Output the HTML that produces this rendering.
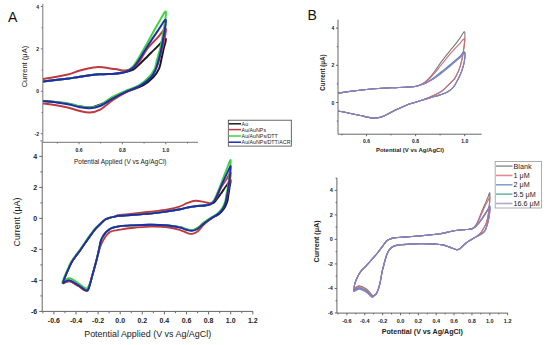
<!DOCTYPE html>
<html><head><meta charset="utf-8"><style>
html,body{margin:0;padding:0;background:#fff;width:550px;height:345px;overflow:hidden;}
svg{display:block;font-family:"Liberation Sans",sans-serif;}
</style></head><body>
<svg width="550" height="345" viewBox="0 0 550 345" font-family="Liberation Sans, sans-serif">
<rect width="550" height="345" fill="#fff"/>
<defs>
<clipPath id="cTA"><rect x="43.00" y="0.00" width="155.00" height="142.00"/></clipPath>
<clipPath id="cBA"><rect x="42.50" y="140.00" width="210.50" height="171.00"/></clipPath>
<clipPath id="cTB"><rect x="338.50" y="15.00" width="143.50" height="119.00"/></clipPath>
<clipPath id="cBB"><rect x="337.20" y="175.00" width="170.80" height="138.00"/></clipPath>
</defs>
<g clip-path="url(#cTA)" fill="none" stroke-width="2.0" stroke-linejoin="round">
<path d="M-164.04,180.34 C-163.71,179.63 -162.77,177.51 -162.09,176.10 C-161.40,174.69 -161.33,174.26 -159.92,171.86 C-158.51,169.46 -156.08,165.39 -153.62,161.68 C-151.16,157.97 -149.43,154.37 -145.16,149.60 C-140.89,144.83 -133.44,138.40 -128.02,133.06 C-122.59,127.73 -117.46,122.25 -112.61,117.59 C-107.76,112.92 -103.14,108.51 -98.94,105.08 C-94.74,101.65 -90.51,99.07 -87.44,97.02 C-84.36,94.97 -82.92,93.84 -80.50,92.78 C-78.07,91.72 -75.97,91.34 -72.90,90.66 C-69.83,89.99 -65.67,89.25 -62.05,88.76 C-58.43,88.26 -62.77,88.37 -51.20,87.70 C-39.63,87.02 -8.16,85.75 7.39,84.73 C22.94,83.70 32.24,82.54 42.11,81.55 C51.98,80.56 60.30,79.60 66.63,78.79 C72.96,77.98 74.59,77.41 80.08,76.67 C85.58,75.93 93.83,74.83 99.61,74.34 C105.40,73.85 110.54,74.09 114.80,73.70 C119.07,73.32 122.15,72.68 125.22,72.01 C128.30,71.34 130.79,71.05 133.25,69.68 C135.71,68.30 137.73,65.82 139.98,63.74 C142.22,61.66 143.77,60.07 146.70,57.17 C149.63,54.27 154.37,49.43 157.55,46.36 C160.74,43.28 164.79,38.30 165.80,38.72 C166.81,39.15 164.39,45.37 163.63,48.90 C162.87,52.43 162.00,56.64 161.24,59.92 C160.48,63.21 160.41,65.72 159.07,68.62 C157.73,71.51 155.89,74.52 153.21,77.31 C150.54,80.10 147.07,83.10 143.01,85.36 C138.96,87.63 133.79,88.83 128.91,90.88 C124.03,92.93 118.42,95.40 113.72,97.66 C109.02,99.92 104.68,102.82 100.70,104.44 C96.72,106.07 93.47,107.13 89.85,107.41 C86.23,107.69 82.87,106.81 79.00,106.14 C75.13,105.47 72.78,104.23 66.63,103.38 C60.48,102.54 51.98,101.62 42.11,101.05 C32.24,100.49 19.33,100.03 7.39,99.99 C-4.54,99.96 -19.73,100.52 -29.50,100.84 C-39.27,101.16 -44.98,101.33 -51.20,101.90 C-57.42,102.47 -63.03,103.35 -66.82,104.23 C-70.62,105.12 -71.96,106.21 -73.99,107.20 C-76.01,108.19 -77.17,108.75 -78.98,110.17 C-80.78,111.58 -83.14,113.70 -84.84,115.68 C-86.53,117.66 -87.73,118.68 -89.18,122.04 C-90.62,125.40 -92.10,131.47 -93.52,135.82 C-94.93,140.17 -95.90,143.38 -97.64,148.12 C-99.37,152.85 -101.98,159.21 -103.93,164.23 C-105.88,169.25 -107.87,174.47 -109.36,178.22 C-110.84,181.97 -111.74,184.72 -112.83,186.70 C-113.91,188.68 -114.49,189.74 -115.87,190.09 C-117.24,190.45 -118.11,189.92 -121.07,188.82 C-124.04,187.72 -128.85,185.46 -133.66,183.52 C-138.47,181.58 -145.78,177.97 -149.94,177.16 C-154.09,176.35 -156.26,178.11 -158.61,178.64 C-160.97,179.17 -163.14,180.06 -164.04,180.34" stroke="#1a1a1a"/>
<path d="M-164.04,180.34 C-163.71,179.63 -162.77,177.51 -162.09,176.10 C-161.40,174.69 -161.33,174.26 -159.92,171.86 C-158.51,169.46 -156.08,165.39 -153.62,161.68 C-151.16,157.97 -149.43,154.37 -145.16,149.60 C-140.89,144.83 -133.44,138.40 -128.02,133.06 C-122.59,127.73 -117.46,122.25 -112.61,117.59 C-107.76,112.92 -103.14,108.51 -98.94,105.08 C-94.74,101.65 -90.51,99.07 -87.44,97.02 C-84.36,94.97 -82.92,93.84 -80.50,92.78 C-78.07,91.72 -75.97,91.34 -72.90,90.66 C-69.83,89.99 -65.67,89.43 -62.05,88.76 C-58.43,88.08 -62.77,87.73 -51.20,86.64 C-39.63,85.54 -8.16,83.46 7.39,82.18 C22.94,80.91 32.24,80.24 42.11,79.00 C51.98,77.77 60.34,76.18 66.63,74.76 C72.92,73.35 74.91,71.80 79.87,70.52 C84.82,69.25 90.54,67.38 96.36,67.13 C102.18,66.88 109.99,68.47 114.80,69.04 C119.62,69.61 122.15,70.77 125.22,70.52 C128.30,70.28 130.79,69.22 133.25,67.56 C135.71,65.90 137.73,63.56 139.98,60.56 C142.22,57.56 143.77,53.35 146.70,49.54 C149.63,45.72 154.37,41.16 157.55,37.66 C160.74,34.17 164.79,27.74 165.80,28.55 C166.81,29.36 164.53,38.09 163.63,42.54 C162.73,46.99 161.39,51.55 160.38,55.26 C159.36,58.97 158.46,62.26 157.55,64.80 C156.65,67.34 156.18,68.44 154.95,70.52 C153.72,72.61 152.64,74.83 150.18,77.31 C147.72,79.78 144.10,82.93 140.19,85.36 C136.29,87.80 131.33,89.46 126.74,91.94 C122.15,94.41 116.97,97.31 112.63,100.20 C108.29,103.10 104.50,107.27 100.70,109.32 C96.90,111.37 93.47,112.25 89.85,112.50 C86.23,112.75 82.87,111.69 79.00,110.80 C75.13,109.92 72.78,108.44 66.63,107.20 C60.48,105.96 51.98,104.16 42.11,103.38 C32.24,102.61 19.33,102.36 7.39,102.54 C-4.54,102.71 -19.73,103.77 -29.50,104.44 C-39.27,105.12 -44.69,105.82 -51.20,106.56 C-57.71,107.31 -64.58,107.98 -68.56,108.90 C-72.54,109.81 -73.08,110.77 -75.07,112.08 C-77.06,113.38 -78.69,114.90 -80.50,116.74 C-82.30,118.58 -84.36,120.98 -85.92,123.10 C-87.48,125.22 -88.38,126.63 -89.83,129.46 C-91.27,132.29 -93.30,136.95 -94.60,140.06 C-95.90,143.17 -96.08,144.09 -97.64,148.12 C-99.19,152.14 -101.91,159.21 -103.93,164.23 C-105.96,169.25 -108.09,174.47 -109.79,178.22 C-111.49,181.97 -112.86,184.79 -114.13,186.70 C-115.40,188.61 -115.94,189.24 -117.38,189.67 C-118.83,190.09 -120.10,190.27 -122.81,189.24 C-125.52,188.22 -129.32,185.43 -133.66,183.52 C-138.00,181.61 -144.69,178.68 -148.85,177.80 C-153.01,176.91 -156.08,177.80 -158.61,178.22 C-161.15,178.64 -163.14,179.99 -164.04,180.34" stroke="#c0393f"/>
<path d="M-165.34,180.34 C-165.02,179.63 -164.08,177.51 -163.39,176.10 C-162.70,174.69 -162.63,174.26 -161.22,171.86 C-159.81,169.46 -157.39,165.39 -154.93,161.68 C-152.47,157.97 -150.73,154.37 -146.46,149.60 C-142.20,144.83 -134.75,138.40 -129.32,133.06 C-123.90,127.73 -118.76,122.25 -113.91,117.59 C-109.07,112.92 -104.44,108.51 -100.24,105.08 C-96.05,101.65 -92.03,99.07 -88.74,97.02 C-85.45,94.97 -83.14,93.84 -80.50,92.78 C-77.85,91.72 -75.97,91.34 -72.90,90.66 C-69.83,89.99 -65.67,89.25 -62.05,88.76 C-58.43,88.26 -62.77,88.37 -51.20,87.70 C-39.63,87.02 -8.16,85.75 7.39,84.73 C22.94,83.70 32.24,82.54 42.11,81.55 C51.98,80.56 60.30,79.60 66.63,78.79 C72.96,77.98 74.59,77.41 80.08,76.67 C85.58,75.93 93.83,74.83 99.61,74.34 C105.40,73.85 110.54,74.09 114.80,73.70 C119.07,73.32 122.15,73.28 125.22,72.01 C128.30,70.74 130.79,68.79 133.25,66.07 C135.71,63.35 137.73,59.36 139.98,55.68 C142.22,52.01 143.77,49.22 146.70,44.02 C149.63,38.83 154.37,29.93 157.55,24.52 C160.74,19.11 164.79,10.70 165.80,11.59 C166.81,12.47 164.53,23.78 163.63,29.82 C162.73,35.86 161.50,42.82 160.38,47.84 C159.25,52.86 157.84,56.46 156.90,59.92 C155.96,63.39 156.07,65.72 154.73,68.62 C153.39,71.51 151.51,74.52 148.87,77.31 C146.23,80.10 142.94,83.03 138.89,85.36 C134.84,87.70 129.38,89.14 124.57,91.30 C119.76,93.46 114.01,96.03 110.03,98.30 C106.05,100.56 104.06,103.35 100.70,104.87 C97.34,106.39 93.47,107.20 89.85,107.41 C86.23,107.62 82.87,106.85 79.00,106.14 C75.13,105.43 72.78,104.02 66.63,103.17 C60.48,102.32 51.98,101.58 42.11,101.05 C32.24,100.52 19.33,100.03 7.39,99.99 C-4.54,99.96 -19.73,100.52 -29.50,100.84 C-39.27,101.16 -44.98,101.33 -51.20,101.90 C-57.42,102.47 -63.03,103.35 -66.82,104.23 C-70.62,105.12 -71.96,106.21 -73.99,107.20 C-76.01,108.19 -77.17,108.75 -78.98,110.17 C-80.78,111.58 -83.14,113.70 -84.84,115.68 C-86.53,117.66 -87.73,118.68 -89.18,122.04 C-90.62,125.40 -92.10,131.47 -93.52,135.82 C-94.93,140.17 -95.90,143.38 -97.64,148.12 C-99.37,152.85 -101.98,159.21 -103.93,164.23 C-105.88,169.25 -107.66,174.76 -109.36,178.22 C-111.06,181.68 -112.79,183.52 -114.13,185.00 C-115.47,186.49 -115.94,187.02 -117.38,187.12 C-118.83,187.23 -119.74,187.05 -122.81,185.64 C-125.88,184.23 -131.31,180.73 -135.83,178.64 C-140.35,176.56 -146.14,173.73 -149.94,173.13 C-153.73,172.53 -156.05,174.02 -158.61,175.04 C-161.18,176.06 -164.22,178.57 -165.34,179.28" stroke="#3fd23f"/>
<path d="M-164.04,180.34 C-163.71,179.63 -162.77,177.51 -162.09,176.10 C-161.40,174.69 -161.33,174.26 -159.92,171.86 C-158.51,169.46 -156.08,165.39 -153.62,161.68 C-151.16,157.97 -149.43,154.37 -145.16,149.60 C-140.89,144.83 -133.44,138.40 -128.02,133.06 C-122.59,127.73 -117.46,122.25 -112.61,117.59 C-107.76,112.92 -103.14,108.51 -98.94,105.08 C-94.74,101.65 -90.51,99.07 -87.44,97.02 C-84.36,94.97 -82.92,93.84 -80.50,92.78 C-78.07,91.72 -75.97,91.34 -72.90,90.66 C-69.83,89.99 -65.67,89.25 -62.05,88.76 C-58.43,88.26 -62.77,88.37 -51.20,87.70 C-39.63,87.02 -8.16,85.75 7.39,84.73 C22.94,83.70 32.24,82.54 42.11,81.55 C51.98,80.56 60.30,79.60 66.63,78.79 C72.96,77.98 74.59,77.41 80.08,76.67 C85.58,75.93 93.83,74.83 99.61,74.34 C105.40,73.85 110.54,74.09 114.80,73.70 C119.07,73.32 122.15,73.03 125.22,72.01 C128.30,70.98 130.79,69.82 133.25,67.56 C135.71,65.29 137.73,61.80 139.98,58.44 C142.22,55.08 143.77,51.97 146.70,47.42 C149.63,42.86 154.37,35.69 157.55,31.09 C160.74,26.50 164.79,19.01 165.80,19.86 C166.81,20.70 164.53,30.63 163.63,36.18 C162.73,41.73 161.39,48.55 160.38,53.14 C159.36,57.73 158.39,60.91 157.55,63.74 C156.72,66.57 156.47,67.84 155.38,70.10 C154.30,72.36 153.47,74.76 151.04,77.31 C148.62,79.85 144.90,83.03 140.84,85.36 C136.79,87.70 131.44,89.11 126.74,91.30 C122.04,93.49 116.97,96.11 112.63,98.51 C108.29,100.91 104.50,104.09 100.70,105.72 C96.90,107.34 93.47,108.05 89.85,108.26 C86.23,108.47 82.87,107.69 79.00,106.99 C75.13,106.28 72.78,105.01 66.63,104.02 C60.48,103.03 51.98,101.72 42.11,101.05 C32.24,100.38 19.33,100.03 7.39,99.99 C-4.54,99.96 -19.73,100.52 -29.50,100.84 C-39.27,101.16 -44.98,101.33 -51.20,101.90 C-57.42,102.47 -63.03,103.35 -66.82,104.23 C-70.62,105.12 -71.96,106.21 -73.99,107.20 C-76.01,108.19 -77.17,108.75 -78.98,110.17 C-80.78,111.58 -83.14,113.70 -84.84,115.68 C-86.53,117.66 -87.73,118.68 -89.18,122.04 C-90.62,125.40 -92.10,131.47 -93.52,135.82 C-94.93,140.17 -95.90,143.38 -97.64,148.12 C-99.37,152.85 -101.98,159.21 -103.93,164.23 C-105.88,169.25 -107.87,174.47 -109.36,178.22 C-110.84,181.97 -111.74,184.72 -112.83,186.70 C-113.91,188.68 -114.49,189.74 -115.87,190.09 C-117.24,190.45 -118.11,190.09 -121.07,188.82 C-124.04,187.55 -128.85,184.58 -133.66,182.46 C-138.47,180.34 -145.78,176.91 -149.94,176.10 C-154.09,175.29 -156.26,176.88 -158.61,177.58 C-160.97,178.29 -163.14,179.88 -164.04,180.34" stroke="#1f2bb0"/>
</g>
<path d="M42.80,3.90 V142.30 H198.00" fill="none" stroke="#666" stroke-width="0.90"/>
<line x1="40.80" y1="6.50" x2="42.80" y2="6.50" stroke="#666" stroke-width="0.90"/>
<text x="39.00" y="6.50" font-size="5.00" font-weight="bold" text-anchor="end" dominant-baseline="central" fill="#222">4</text>
<line x1="40.80" y1="48.90" x2="42.80" y2="48.90" stroke="#666" stroke-width="0.90"/>
<text x="39.00" y="48.90" font-size="5.00" font-weight="bold" text-anchor="end" dominant-baseline="central" fill="#222">2</text>
<line x1="40.80" y1="91.30" x2="42.80" y2="91.30" stroke="#666" stroke-width="0.90"/>
<text x="39.00" y="91.30" font-size="5.00" font-weight="bold" text-anchor="end" dominant-baseline="central" fill="#222">0</text>
<line x1="40.80" y1="133.70" x2="42.80" y2="133.70" stroke="#666" stroke-width="0.90"/>
<text x="39.00" y="133.70" font-size="5.00" font-weight="bold" text-anchor="end" dominant-baseline="central" fill="#222">-2</text>
<line x1="41.60" y1="27.70" x2="42.80" y2="27.70" stroke="#666" stroke-width="0.90"/>
<line x1="41.60" y1="70.10" x2="42.80" y2="70.10" stroke="#666" stroke-width="0.90"/>
<line x1="41.60" y1="112.50" x2="42.80" y2="112.50" stroke="#666" stroke-width="0.90"/>
<line x1="79.00" y1="142.30" x2="79.00" y2="144.30" stroke="#666" stroke-width="0.90"/>
<text x="79.00" y="149.90" font-size="5.00" font-weight="bold" text-anchor="middle" dominant-baseline="central" fill="#222">0.6</text>
<line x1="122.40" y1="142.30" x2="122.40" y2="144.30" stroke="#666" stroke-width="0.90"/>
<text x="122.40" y="149.90" font-size="5.00" font-weight="bold" text-anchor="middle" dominant-baseline="central" fill="#222">0.8</text>
<line x1="165.80" y1="142.30" x2="165.80" y2="144.30" stroke="#666" stroke-width="0.90"/>
<text x="165.80" y="149.90" font-size="5.00" font-weight="bold" text-anchor="middle" dominant-baseline="central" fill="#222">1.0</text>
<line x1="57.30" y1="142.30" x2="57.30" y2="143.50" stroke="#666" stroke-width="0.90"/>
<line x1="100.70" y1="142.30" x2="100.70" y2="143.50" stroke="#666" stroke-width="0.90"/>
<line x1="144.10" y1="142.30" x2="144.10" y2="143.50" stroke="#666" stroke-width="0.90"/>
<line x1="187.50" y1="142.30" x2="187.50" y2="143.50" stroke="#666" stroke-width="0.90"/>
<text font-size="7" transform="translate(24.4,66.6) rotate(-90)" text-anchor="middle" dominant-baseline="central" fill="#222" x="0" textLength="41.5" lengthAdjust="spacingAndGlyphs">Current (μA)</text>
<text x="74" y="163.6" font-size="7" fill="#222" textLength="92.5" lengthAdjust="spacingAndGlyphs">Potential Applied (V vs Ag/AgCl)</text>
<g clip-path="url(#cBA)" fill="none" stroke-width="1.85" stroke-linejoin="round">
<path d="M62.74,283.50 C62.91,282.98 63.38,281.43 63.73,280.40 C64.08,279.37 64.12,279.06 64.84,277.30 C65.56,275.54 66.79,272.57 68.04,269.86 C69.30,267.15 70.18,264.51 72.35,261.02 C74.53,257.54 78.32,252.84 81.08,248.94 C83.85,245.03 86.46,241.03 88.93,237.62 C91.40,234.21 93.75,230.98 95.89,228.47 C98.03,225.97 100.18,224.08 101.75,222.59 C103.31,221.09 104.05,220.26 105.28,219.49 C106.52,218.71 107.58,218.43 109.15,217.94 C110.72,217.44 112.83,216.90 114.67,216.54 C116.52,216.18 114.31,216.26 120.20,215.77 C126.09,215.27 142.12,214.34 150.03,213.59 C157.95,212.85 162.69,211.99 167.72,211.27 C172.74,210.55 176.98,209.85 180.20,209.25 C183.42,208.66 184.25,208.25 187.05,207.71 C189.85,207.16 194.05,206.36 197.00,206.00 C199.94,205.64 202.56,205.82 204.73,205.53 C206.91,205.25 208.47,204.79 210.04,204.30 C211.60,203.80 212.87,203.60 214.12,202.59 C215.38,201.58 216.41,199.77 217.55,198.25 C218.69,196.73 219.48,195.56 220.98,193.44 C222.47,191.33 224.88,187.79 226.50,185.54 C228.12,183.29 230.18,179.65 230.70,179.96 C231.22,180.27 229.98,184.82 229.59,187.40 C229.21,189.98 228.77,193.06 228.38,195.46 C227.99,197.86 227.96,199.70 227.27,201.81 C226.59,203.93 225.65,206.13 224.29,208.17 C222.93,210.21 221.16,212.41 219.10,214.06 C217.03,215.71 214.40,216.59 211.91,218.09 C209.43,219.59 206.57,221.40 204.18,223.05 C201.79,224.70 199.58,226.82 197.55,228.01 C195.52,229.20 193.87,229.97 192.03,230.18 C190.18,230.39 188.47,229.74 186.50,229.25 C184.53,228.76 183.33,227.86 180.20,227.24 C177.07,226.62 172.74,225.94 167.72,225.53 C162.69,225.12 156.11,224.78 150.03,224.75 C143.96,224.73 136.22,225.14 131.25,225.38 C126.28,225.61 123.37,225.74 120.20,226.15 C117.03,226.56 114.18,227.21 112.24,227.86 C110.31,228.50 109.63,229.30 108.60,230.03 C107.57,230.75 106.98,231.16 106.06,232.19 C105.14,233.23 103.94,234.78 103.07,236.22 C102.21,237.67 101.60,238.42 100.86,240.88 C100.13,243.33 99.37,247.77 98.65,250.95 C97.93,254.13 97.44,256.48 96.55,259.94 C95.67,263.40 94.34,268.05 93.35,271.72 C92.35,275.39 91.34,279.21 90.59,281.95 C89.83,284.69 89.37,286.70 88.82,288.15 C88.27,289.60 87.97,290.37 87.27,290.63 C86.57,290.89 86.13,290.50 84.62,289.70 C83.11,288.90 80.66,287.25 78.21,285.82 C75.76,284.40 72.04,281.77 69.92,281.18 C67.80,280.58 66.70,281.87 65.50,282.26 C64.31,282.65 63.20,283.29 62.74,283.50" stroke="#1a1a1a"/>
<path d="M62.74,283.50 C62.91,282.98 63.38,281.43 63.73,280.40 C64.08,279.37 64.12,279.06 64.84,277.30 C65.56,275.54 66.79,272.57 68.04,269.86 C69.30,267.15 70.18,264.51 72.35,261.02 C74.53,257.54 78.32,252.84 81.08,248.94 C83.85,245.03 86.46,241.03 88.93,237.62 C91.40,234.21 93.75,230.98 95.89,228.47 C98.03,225.97 100.18,224.08 101.75,222.59 C103.31,221.09 104.05,220.26 105.28,219.49 C106.52,218.71 107.58,218.43 109.15,217.94 C110.72,217.44 112.83,217.03 114.67,216.54 C116.52,216.05 114.31,215.79 120.20,214.99 C126.09,214.19 142.12,212.67 150.03,211.74 C157.95,210.81 162.69,210.31 167.72,209.41 C172.74,208.51 177.00,207.34 180.20,206.31 C183.41,205.28 184.42,204.14 186.94,203.21 C189.47,202.28 192.37,200.91 195.34,200.73 C198.31,200.55 202.28,201.71 204.73,202.12 C207.18,202.54 208.47,203.39 210.04,203.21 C211.60,203.03 212.87,202.25 214.12,201.04 C215.38,199.83 216.41,198.12 217.55,195.93 C218.69,193.73 219.48,190.66 220.98,187.87 C222.47,185.08 224.88,181.74 226.50,179.19 C228.12,176.63 230.18,171.93 230.70,172.52 C231.22,173.11 230.06,179.50 229.59,182.75 C229.13,186.00 228.45,189.34 227.94,192.05 C227.42,194.76 226.96,197.17 226.50,199.03 C226.04,200.88 225.80,201.69 225.18,203.21 C224.55,204.73 224.00,206.36 222.74,208.17 C221.49,209.98 219.65,212.28 217.66,214.06 C215.67,215.84 213.15,217.06 210.81,218.87 C208.47,220.67 205.84,222.79 203.63,224.91 C201.42,227.03 199.48,230.08 197.55,231.58 C195.62,233.07 193.87,233.72 192.03,233.90 C190.18,234.08 188.47,233.31 186.50,232.66 C184.53,232.01 183.33,230.93 180.20,230.03 C177.07,229.12 172.74,227.80 167.72,227.24 C162.69,226.67 156.11,226.49 150.03,226.62 C143.96,226.74 136.22,227.52 131.25,228.01 C126.28,228.50 123.52,229.02 120.20,229.56 C116.89,230.10 113.39,230.59 111.36,231.27 C109.33,231.94 109.06,232.63 108.05,233.59 C107.03,234.55 106.20,235.66 105.28,237.00 C104.36,238.34 103.31,240.10 102.52,241.65 C101.73,243.20 101.27,244.23 100.53,246.30 C99.79,248.37 98.76,251.78 98.10,254.05 C97.44,256.32 97.34,257.00 96.55,259.94 C95.76,262.88 94.38,268.05 93.35,271.72 C92.32,275.39 91.23,279.21 90.37,281.95 C89.50,284.69 88.80,286.75 88.16,288.15 C87.51,289.54 87.23,290.01 86.50,290.32 C85.76,290.63 85.12,290.76 83.73,290.01 C82.35,289.26 80.42,287.22 78.21,285.82 C76.00,284.43 72.59,282.29 70.47,281.64 C68.36,280.99 66.79,281.64 65.50,281.95 C64.21,282.26 63.20,283.24 62.74,283.50" stroke="#c0393f"/>
<path d="M62.08,283.50 C62.24,282.98 62.72,281.43 63.07,280.40 C63.42,279.37 63.46,279.06 64.18,277.30 C64.89,275.54 66.13,272.57 67.38,269.86 C68.63,267.15 69.52,264.51 71.69,261.02 C73.86,257.54 77.66,252.84 80.42,248.94 C83.18,245.03 85.80,241.03 88.27,237.62 C90.73,234.21 93.09,230.98 95.23,228.47 C97.36,225.97 99.41,224.08 101.08,222.59 C102.76,221.09 103.94,220.26 105.28,219.49 C106.63,218.71 107.58,218.43 109.15,217.94 C110.72,217.44 112.83,216.90 114.67,216.54 C116.52,216.18 114.31,216.26 120.20,215.77 C126.09,215.27 142.12,214.34 150.03,213.59 C157.95,212.85 162.69,211.99 167.72,211.27 C172.74,210.55 176.98,209.85 180.20,209.25 C183.42,208.66 184.25,208.25 187.05,207.71 C189.85,207.16 194.05,206.36 197.00,206.00 C199.94,205.64 202.56,205.82 204.73,205.53 C206.91,205.25 208.47,205.23 210.04,204.30 C211.60,203.37 212.87,201.94 214.12,199.96 C215.38,197.97 216.41,195.05 217.55,192.36 C218.69,189.67 219.48,187.63 220.98,183.84 C222.47,180.04 224.88,173.53 226.50,169.58 C228.12,165.62 230.18,159.47 230.70,160.12 C231.22,160.77 230.06,169.03 229.59,173.45 C229.13,177.87 228.51,182.96 227.94,186.62 C227.37,190.29 226.65,192.93 226.17,195.46 C225.69,197.99 225.75,199.70 225.06,201.81 C224.38,203.93 223.43,206.13 222.08,208.17 C220.74,210.21 219.06,212.36 217.00,214.06 C214.94,215.76 212.15,216.82 209.71,218.40 C207.26,219.98 204.33,221.86 202.30,223.52 C200.28,225.17 199.26,227.21 197.55,228.32 C195.84,229.43 193.87,230.03 192.03,230.18 C190.18,230.34 188.47,229.77 186.50,229.25 C184.53,228.73 183.33,227.70 180.20,227.08 C177.07,226.46 172.74,225.92 167.72,225.53 C162.69,225.14 156.11,224.78 150.03,224.75 C143.96,224.73 136.22,225.14 131.25,225.38 C126.28,225.61 123.37,225.74 120.20,226.15 C117.03,226.56 114.18,227.21 112.24,227.86 C110.31,228.50 109.63,229.30 108.60,230.03 C107.57,230.75 106.98,231.16 106.06,232.19 C105.14,233.23 103.94,234.78 103.07,236.22 C102.21,237.67 101.60,238.42 100.86,240.88 C100.13,243.33 99.37,247.77 98.65,250.95 C97.93,254.13 97.44,256.48 96.55,259.94 C95.67,263.40 94.34,268.05 93.35,271.72 C92.35,275.39 91.45,279.42 90.59,281.95 C89.72,284.48 88.84,285.83 88.16,286.91 C87.47,288.00 87.23,288.38 86.50,288.46 C85.76,288.54 85.30,288.41 83.73,287.38 C82.17,286.34 79.41,283.78 77.11,282.26 C74.80,280.74 71.86,278.67 69.92,278.23 C67.99,277.79 66.81,278.88 65.50,279.62 C64.19,280.37 62.65,282.21 62.08,282.73" stroke="#3fd23f"/>
<path d="M62.74,283.50 C62.91,282.98 63.38,281.43 63.73,280.40 C64.08,279.37 64.12,279.06 64.84,277.30 C65.56,275.54 66.79,272.57 68.04,269.86 C69.30,267.15 70.18,264.51 72.35,261.02 C74.53,257.54 78.32,252.84 81.08,248.94 C83.85,245.03 86.46,241.03 88.93,237.62 C91.40,234.21 93.75,230.98 95.89,228.47 C98.03,225.97 100.18,224.08 101.75,222.59 C103.31,221.09 104.05,220.26 105.28,219.49 C106.52,218.71 107.58,218.43 109.15,217.94 C110.72,217.44 112.83,216.90 114.67,216.54 C116.52,216.18 114.31,216.26 120.20,215.77 C126.09,215.27 142.12,214.34 150.03,213.59 C157.95,212.85 162.69,211.99 167.72,211.27 C172.74,210.55 176.98,209.85 180.20,209.25 C183.42,208.66 184.25,208.25 187.05,207.71 C189.85,207.16 194.05,206.36 197.00,206.00 C199.94,205.64 202.56,205.82 204.73,205.53 C206.91,205.25 208.47,205.04 210.04,204.30 C211.60,203.55 212.87,202.69 214.12,201.04 C215.38,199.39 216.41,196.83 217.55,194.38 C218.69,191.92 219.48,189.65 220.98,186.31 C222.47,182.98 224.88,177.74 226.50,174.38 C228.12,171.02 230.18,165.55 230.70,166.17 C231.22,166.79 230.06,174.04 229.59,178.10 C229.13,182.16 228.45,187.14 227.94,190.50 C227.42,193.86 226.92,196.18 226.50,198.25 C226.08,200.32 225.95,201.25 225.40,202.90 C224.84,204.55 224.42,206.31 223.19,208.17 C221.95,210.03 220.06,212.36 217.99,214.06 C215.93,215.76 213.20,216.80 210.81,218.40 C208.42,220.00 205.84,221.91 203.63,223.67 C201.42,225.43 199.48,227.75 197.55,228.94 C195.62,230.13 193.87,230.65 192.03,230.80 C190.18,230.96 188.47,230.39 186.50,229.87 C184.53,229.35 183.33,228.42 180.20,227.70 C177.07,226.98 172.74,226.02 167.72,225.53 C162.69,225.04 156.11,224.78 150.03,224.75 C143.96,224.73 136.22,225.14 131.25,225.38 C126.28,225.61 123.37,225.74 120.20,226.15 C117.03,226.56 114.18,227.21 112.24,227.86 C110.31,228.50 109.63,229.30 108.60,230.03 C107.57,230.75 106.98,231.16 106.06,232.19 C105.14,233.23 103.94,234.78 103.07,236.22 C102.21,237.67 101.60,238.42 100.86,240.88 C100.13,243.33 99.37,247.77 98.65,250.95 C97.93,254.13 97.44,256.48 96.55,259.94 C95.67,263.40 94.34,268.05 93.35,271.72 C92.35,275.39 91.34,279.21 90.59,281.95 C89.83,284.69 89.37,286.70 88.82,288.15 C88.27,289.60 87.97,290.37 87.27,290.63 C86.57,290.89 86.13,290.63 84.62,289.70 C83.11,288.77 80.66,286.60 78.21,285.05 C75.76,283.50 72.04,280.99 69.92,280.40 C67.80,279.81 66.70,280.97 65.50,281.49 C64.31,282.00 63.20,283.16 62.74,283.50" stroke="#1f2bb0"/>
</g>
<path d="M42.20,142.00 V311.40 H253.00" fill="none" stroke="#666" stroke-width="1.00"/>
<line x1="39.20" y1="156.40" x2="42.20" y2="156.40" stroke="#666" stroke-width="1.00"/>
<text x="37.20" y="156.40" font-size="7.00" font-weight="bold" text-anchor="end" dominant-baseline="central" fill="#222">4</text>
<line x1="39.20" y1="187.40" x2="42.20" y2="187.40" stroke="#666" stroke-width="1.00"/>
<text x="37.20" y="187.40" font-size="7.00" font-weight="bold" text-anchor="end" dominant-baseline="central" fill="#222">2</text>
<line x1="39.20" y1="218.40" x2="42.20" y2="218.40" stroke="#666" stroke-width="1.00"/>
<text x="37.20" y="218.40" font-size="7.00" font-weight="bold" text-anchor="end" dominant-baseline="central" fill="#222">0</text>
<line x1="39.20" y1="249.40" x2="42.20" y2="249.40" stroke="#666" stroke-width="1.00"/>
<text x="37.20" y="249.40" font-size="7.00" font-weight="bold" text-anchor="end" dominant-baseline="central" fill="#222">-2</text>
<line x1="39.20" y1="280.40" x2="42.20" y2="280.40" stroke="#666" stroke-width="1.00"/>
<text x="37.20" y="280.40" font-size="7.00" font-weight="bold" text-anchor="end" dominant-baseline="central" fill="#222">-4</text>
<line x1="39.20" y1="311.40" x2="42.20" y2="311.40" stroke="#666" stroke-width="1.00"/>
<text x="37.20" y="311.40" font-size="7.00" font-weight="bold" text-anchor="end" dominant-baseline="central" fill="#222">-6</text>
<line x1="40.40" y1="140.90" x2="42.20" y2="140.90" stroke="#666" stroke-width="1.00"/>
<line x1="40.40" y1="171.90" x2="42.20" y2="171.90" stroke="#666" stroke-width="1.00"/>
<line x1="40.40" y1="202.90" x2="42.20" y2="202.90" stroke="#666" stroke-width="1.00"/>
<line x1="40.40" y1="233.90" x2="42.20" y2="233.90" stroke="#666" stroke-width="1.00"/>
<line x1="40.40" y1="264.90" x2="42.20" y2="264.90" stroke="#666" stroke-width="1.00"/>
<line x1="40.40" y1="295.90" x2="42.20" y2="295.90" stroke="#666" stroke-width="1.00"/>
<line x1="53.90" y1="311.40" x2="53.90" y2="314.40" stroke="#666" stroke-width="1.00"/>
<text x="53.90" y="320.40" font-size="7.00" font-weight="bold" text-anchor="middle" dominant-baseline="central" fill="#222">-0.6</text>
<line x1="76.00" y1="311.40" x2="76.00" y2="314.40" stroke="#666" stroke-width="1.00"/>
<text x="76.00" y="320.40" font-size="7.00" font-weight="bold" text-anchor="middle" dominant-baseline="central" fill="#222">-0.4</text>
<line x1="98.10" y1="311.40" x2="98.10" y2="314.40" stroke="#666" stroke-width="1.00"/>
<text x="98.10" y="320.40" font-size="7.00" font-weight="bold" text-anchor="middle" dominant-baseline="central" fill="#222">-0.2</text>
<line x1="120.20" y1="311.40" x2="120.20" y2="314.40" stroke="#666" stroke-width="1.00"/>
<text x="120.20" y="320.40" font-size="7.00" font-weight="bold" text-anchor="middle" dominant-baseline="central" fill="#222">0.0</text>
<line x1="142.30" y1="311.40" x2="142.30" y2="314.40" stroke="#666" stroke-width="1.00"/>
<text x="142.30" y="320.40" font-size="7.00" font-weight="bold" text-anchor="middle" dominant-baseline="central" fill="#222">0.2</text>
<line x1="164.40" y1="311.40" x2="164.40" y2="314.40" stroke="#666" stroke-width="1.00"/>
<text x="164.40" y="320.40" font-size="7.00" font-weight="bold" text-anchor="middle" dominant-baseline="central" fill="#222">0.4</text>
<line x1="186.50" y1="311.40" x2="186.50" y2="314.40" stroke="#666" stroke-width="1.00"/>
<text x="186.50" y="320.40" font-size="7.00" font-weight="bold" text-anchor="middle" dominant-baseline="central" fill="#222">0.6</text>
<line x1="208.60" y1="311.40" x2="208.60" y2="314.40" stroke="#666" stroke-width="1.00"/>
<text x="208.60" y="320.40" font-size="7.00" font-weight="bold" text-anchor="middle" dominant-baseline="central" fill="#222">0.8</text>
<line x1="230.70" y1="311.40" x2="230.70" y2="314.40" stroke="#666" stroke-width="1.00"/>
<text x="230.70" y="320.40" font-size="7.00" font-weight="bold" text-anchor="middle" dominant-baseline="central" fill="#222">1.0</text>
<line x1="252.80" y1="311.40" x2="252.80" y2="314.40" stroke="#666" stroke-width="1.00"/>
<text x="252.80" y="320.40" font-size="7.00" font-weight="bold" text-anchor="middle" dominant-baseline="central" fill="#222">1.2</text>
<line x1="42.85" y1="311.40" x2="42.85" y2="313.20" stroke="#666" stroke-width="1.00"/>
<line x1="64.95" y1="311.40" x2="64.95" y2="313.20" stroke="#666" stroke-width="1.00"/>
<line x1="87.05" y1="311.40" x2="87.05" y2="313.20" stroke="#666" stroke-width="1.00"/>
<line x1="109.15" y1="311.40" x2="109.15" y2="313.20" stroke="#666" stroke-width="1.00"/>
<line x1="131.25" y1="311.40" x2="131.25" y2="313.20" stroke="#666" stroke-width="1.00"/>
<line x1="153.35" y1="311.40" x2="153.35" y2="313.20" stroke="#666" stroke-width="1.00"/>
<line x1="175.45" y1="311.40" x2="175.45" y2="313.20" stroke="#666" stroke-width="1.00"/>
<line x1="197.55" y1="311.40" x2="197.55" y2="313.20" stroke="#666" stroke-width="1.00"/>
<line x1="219.65" y1="311.40" x2="219.65" y2="313.20" stroke="#666" stroke-width="1.00"/>
<line x1="241.75" y1="311.40" x2="241.75" y2="313.20" stroke="#666" stroke-width="1.00"/>
<text font-size="9" transform="translate(16.7,222) rotate(-90)" text-anchor="middle" dominant-baseline="central" fill="#222" textLength="49" lengthAdjust="spacingAndGlyphs">Current (μA)</text>
<text x="84.2" y="337.4" font-size="9" fill="#222" textLength="127" lengthAdjust="spacingAndGlyphs">Potential Applied (V vs Ag/AgCl)</text>
<rect x="228.3" y="120.2" width="63" height="25.9" fill="#fff" stroke="#444" stroke-width="0.8"/>
<line x1="228.8" y1="123.80" x2="241" y2="123.80" stroke="#1a1a1a" stroke-width="1.5"/>
<text x="241.6" y="123.80" font-size="5.3" dominant-baseline="central" fill="#222">Au</text>
<line x1="228.8" y1="129.60" x2="241" y2="129.60" stroke="#c0393f" stroke-width="1.5"/>
<text x="241.6" y="129.60" font-size="5.3" dominant-baseline="central" fill="#222">Au/AuNPs</text>
<line x1="228.8" y1="136.00" x2="241" y2="136.00" stroke="#3fd23f" stroke-width="1.5"/>
<text x="241.6" y="136.00" font-size="5.3" dominant-baseline="central" fill="#222">Au/AuNPs/DTT</text>
<line x1="228.8" y1="142.20" x2="241" y2="142.20" stroke="#1f2bb0" stroke-width="1.5"/>
<text x="241.6" y="142.20" font-size="5.3" dominant-baseline="central" fill="#222">Au/AuNPs/DTT/ACR</text>
<g clip-path="url(#cTB)" fill="none" stroke-width="1.1" stroke-linejoin="round">
<path d="M90.56,181.18 C90.80,180.31 91.46,178.02 92.03,175.97 C92.60,173.92 92.03,172.13 94.00,168.90 C95.96,165.68 100.58,159.97 103.82,156.63 C107.05,153.28 109.71,151.29 113.39,148.81 C117.07,146.33 121.16,144.54 125.91,141.75 C130.66,138.96 136.55,135.42 141.87,132.07 C147.19,128.73 153.12,124.88 157.83,121.66 C162.53,118.43 166.29,115.52 170.10,112.73 C173.91,109.94 177.38,106.69 180.66,104.92 C183.93,103.15 186.43,102.90 189.74,102.13 C193.05,101.35 195.63,100.73 200.54,100.27 C205.45,99.80 210.81,99.71 219.20,99.34 C227.59,98.97 241.95,98.41 250.87,98.04 C259.79,97.66 263.68,97.54 272.72,97.11 C281.76,96.67 295.96,95.96 305.12,95.43 C314.29,94.91 322.23,94.35 327.71,93.94 C333.19,93.54 332.70,93.63 338.02,93.01 C343.34,92.39 352.34,91.03 359.63,90.22 C366.91,89.42 375.67,88.61 381.72,88.18 C387.78,87.74 391.54,87.81 395.96,87.62 C400.38,87.43 405.04,87.25 408.24,87.06 C411.43,86.88 413.06,86.88 415.11,86.50 C417.15,86.13 418.79,85.64 420.51,84.83 C422.23,84.02 423.78,83.00 425.42,81.67 C427.06,80.33 428.69,78.69 430.33,76.83 C431.97,74.97 433.60,72.74 435.24,70.51 C436.88,68.28 438.51,65.70 440.15,63.44 C441.79,61.18 443.42,59.04 445.06,56.93 C446.70,54.82 448.33,52.81 449.97,50.79 C451.61,48.78 453.24,46.92 454.88,44.84 C456.52,42.76 458.15,40.44 459.79,38.33 C461.43,36.22 464.09,30.11 464.70,32.19 C465.31,34.27 464.21,45.15 463.47,50.79 C462.74,56.43 461.63,61.61 460.28,66.04 C458.93,70.48 456.84,74.75 455.37,77.39 C453.90,80.03 452.96,80.24 451.44,81.85 C449.93,83.47 448.13,85.36 446.29,87.06 C444.45,88.77 443.10,90.41 440.40,92.08 C437.70,93.76 433.48,95.65 430.08,97.11 C426.69,98.56 422.60,99.93 420.02,100.83 C417.44,101.72 416.99,101.72 414.62,102.50 C412.24,103.28 408.69,104.36 405.78,105.48 C402.87,106.59 400.09,107.83 397.19,109.20 C394.28,110.56 390.68,112.48 388.35,113.66 C386.02,114.84 384.87,115.58 383.19,116.26 C381.52,116.95 379.92,117.44 378.28,117.75 C376.65,118.06 375.13,118.22 373.37,118.12 C371.61,118.03 369.90,117.63 367.73,117.19 C365.56,116.76 363.23,116.14 360.36,115.52 C357.50,114.90 354.10,114.19 350.54,113.47 C346.98,112.76 342.81,111.77 339.00,111.24 C335.20,110.72 333.36,110.65 327.71,110.31 C322.06,109.97 314.21,109.44 305.12,109.20 C296.04,108.95 282.25,108.79 273.21,108.82 C264.17,108.86 259.63,109.10 250.87,109.38 C242.11,109.66 229.06,109.94 220.67,110.50 C212.29,111.06 205.86,111.46 200.54,112.73 C195.22,114.00 192.07,115.77 188.76,118.12 C185.44,120.48 183.32,122.80 180.66,126.87 C178.00,130.93 174.85,138.21 172.80,142.49 C170.75,146.77 170.14,147.91 168.38,152.53 C166.62,157.15 164.58,165.06 162.24,170.20 C159.91,175.35 156.76,180.59 154.39,183.41 C152.01,186.23 150.30,186.57 148.01,187.13 C145.71,187.69 144.24,188.25 140.64,186.76 C137.04,185.27 132.09,180.50 126.40,178.20 C120.71,175.91 111.51,173.49 106.52,172.99 C101.52,172.50 99.11,173.86 96.45,175.23 C93.79,176.59 91.54,180.19 90.56,181.18" stroke="#7a7a7a"/>
<path d="M90.56,181.18 C90.80,180.31 91.46,178.02 92.03,175.97 C92.60,173.92 92.03,172.13 94.00,168.90 C95.96,165.68 100.58,159.97 103.82,156.63 C107.05,153.28 109.71,151.29 113.39,148.81 C117.07,146.33 121.16,144.54 125.91,141.75 C130.66,138.96 136.55,135.42 141.87,132.07 C147.19,128.73 153.12,124.88 157.83,121.66 C162.53,118.43 166.29,115.52 170.10,112.73 C173.91,109.94 177.38,106.69 180.66,104.92 C183.93,103.15 186.43,102.90 189.74,102.13 C193.05,101.35 195.63,100.73 200.54,100.27 C205.45,99.80 210.81,99.71 219.20,99.34 C227.59,98.97 241.95,98.41 250.87,98.04 C259.79,97.66 263.68,97.54 272.72,97.11 C281.76,96.67 295.96,95.96 305.12,95.43 C314.29,94.91 322.23,94.35 327.71,93.94 C333.19,93.54 332.70,93.63 338.02,93.01 C343.34,92.39 352.34,91.03 359.63,90.22 C366.91,89.42 375.67,88.61 381.72,88.18 C387.78,87.74 391.54,87.81 395.96,87.62 C400.38,87.43 405.04,87.25 408.24,87.06 C411.43,86.88 413.06,86.84 415.11,86.50 C417.15,86.16 418.79,85.56 420.51,85.02 C422.23,84.47 423.78,84.01 425.42,83.25 C427.06,82.49 428.69,81.47 430.33,80.46 C431.97,79.45 433.60,78.37 435.24,77.20 C436.88,76.04 438.51,74.75 440.15,73.48 C441.79,72.21 443.42,70.91 445.06,69.58 C446.70,68.25 448.33,66.85 449.97,65.49 C451.61,64.12 453.24,62.79 454.88,61.39 C456.52,60.00 458.15,58.57 459.79,57.12 C461.43,55.66 464.00,51.60 464.70,52.65 C465.40,53.71 464.58,60.09 463.96,63.44 C463.35,66.79 462.00,70.10 461.02,72.74 C460.04,75.38 459.34,76.83 458.07,79.25 C456.80,81.67 455.17,85.14 453.41,87.25 C451.65,89.36 449.72,90.63 447.51,91.90 C445.31,93.17 443.01,93.91 440.15,94.87 C437.29,95.83 433.69,96.67 430.33,97.66 C426.97,98.66 422.64,100.02 420.02,100.83 C417.40,101.63 416.99,101.72 414.62,102.50 C412.24,103.28 408.69,104.36 405.78,105.48 C402.87,106.59 400.09,107.83 397.19,109.20 C394.28,110.56 390.68,112.48 388.35,113.66 C386.02,114.84 384.87,115.58 383.19,116.26 C381.52,116.95 379.92,117.44 378.28,117.75 C376.65,118.06 375.13,118.22 373.37,118.12 C371.61,118.03 369.90,117.63 367.73,117.19 C365.56,116.76 363.23,116.14 360.36,115.52 C357.50,114.90 354.10,114.19 350.54,113.47 C346.98,112.76 342.81,111.77 339.00,111.24 C335.20,110.72 333.36,110.65 327.71,110.31 C322.06,109.97 314.21,109.44 305.12,109.20 C296.04,108.95 282.25,108.79 273.21,108.82 C264.17,108.86 259.63,109.10 250.87,109.38 C242.11,109.66 229.06,109.94 220.67,110.50 C212.29,111.06 205.86,111.46 200.54,112.73 C195.22,114.00 192.07,115.77 188.76,118.12 C185.44,120.48 183.32,122.80 180.66,126.87 C178.00,130.93 174.85,138.21 172.80,142.49 C170.75,146.77 170.14,147.91 168.38,152.53 C166.62,157.15 164.58,165.06 162.24,170.20 C159.91,175.35 156.76,180.59 154.39,183.41 C152.01,186.23 150.30,186.29 148.01,187.13 C145.71,187.97 144.24,189.49 140.64,188.43 C137.04,187.38 132.09,182.95 126.40,180.81 C120.71,178.67 111.51,176.09 106.52,175.60 C101.52,175.10 99.11,176.90 96.45,177.83 C93.79,178.76 91.54,180.62 90.56,181.18" stroke="#5aa898"/>
<path d="M90.56,181.18 C90.80,180.31 91.46,178.02 92.03,175.97 C92.60,173.92 92.03,172.13 94.00,168.90 C95.96,165.68 100.58,159.97 103.82,156.63 C107.05,153.28 109.71,151.29 113.39,148.81 C117.07,146.33 121.16,144.54 125.91,141.75 C130.66,138.96 136.55,135.42 141.87,132.07 C147.19,128.73 153.12,124.88 157.83,121.66 C162.53,118.43 166.29,115.52 170.10,112.73 C173.91,109.94 177.38,106.69 180.66,104.92 C183.93,103.15 186.43,102.90 189.74,102.13 C193.05,101.35 195.63,100.73 200.54,100.27 C205.45,99.80 210.81,99.71 219.20,99.34 C227.59,98.97 241.95,98.41 250.87,98.04 C259.79,97.66 263.68,97.54 272.72,97.11 C281.76,96.67 295.96,95.96 305.12,95.43 C314.29,94.91 322.23,94.35 327.71,93.94 C333.19,93.54 332.70,93.63 338.02,93.01 C343.34,92.39 352.34,91.03 359.63,90.22 C366.91,89.42 375.67,88.61 381.72,88.18 C387.78,87.74 391.54,87.81 395.96,87.62 C400.38,87.43 405.04,87.25 408.24,87.06 C411.43,86.88 413.06,86.88 415.11,86.50 C417.15,86.13 418.79,85.57 420.51,84.83 C422.23,84.09 423.78,83.22 425.42,82.04 C427.06,80.86 428.69,79.37 430.33,77.76 C431.97,76.15 433.60,74.29 435.24,72.37 C436.88,70.45 438.51,68.28 440.15,66.23 C441.79,64.18 443.42,62.11 445.06,60.09 C446.70,58.08 448.33,56.06 449.97,54.14 C451.61,52.22 453.24,50.33 454.88,48.56 C456.52,46.79 458.15,45.15 459.79,43.54 C461.43,41.93 464.09,37.68 464.70,38.89 C465.31,40.10 464.21,46.27 463.47,50.79 C462.74,55.32 461.63,61.61 460.28,66.04 C458.93,70.48 456.84,74.75 455.37,77.39 C453.90,80.03 452.96,80.24 451.44,81.85 C449.93,83.47 448.13,85.36 446.29,87.06 C444.45,88.77 443.10,90.41 440.40,92.08 C437.70,93.76 433.48,95.65 430.08,97.11 C426.69,98.56 422.60,99.93 420.02,100.83 C417.44,101.72 416.99,101.72 414.62,102.50 C412.24,103.28 408.69,104.36 405.78,105.48 C402.87,106.59 400.09,107.83 397.19,109.20 C394.28,110.56 390.68,112.48 388.35,113.66 C386.02,114.84 384.87,115.58 383.19,116.26 C381.52,116.95 379.92,117.44 378.28,117.75 C376.65,118.06 375.13,118.22 373.37,118.12 C371.61,118.03 369.90,117.63 367.73,117.19 C365.56,116.76 363.23,116.14 360.36,115.52 C357.50,114.90 354.10,114.19 350.54,113.47 C346.98,112.76 342.81,111.77 339.00,111.24 C335.20,110.72 333.36,110.65 327.71,110.31 C322.06,109.97 314.21,109.44 305.12,109.20 C296.04,108.95 282.25,108.79 273.21,108.82 C264.17,108.86 259.63,109.10 250.87,109.38 C242.11,109.66 229.06,109.94 220.67,110.50 C212.29,111.06 205.86,111.46 200.54,112.73 C195.22,114.00 192.07,115.77 188.76,118.12 C185.44,120.48 183.32,122.80 180.66,126.87 C178.00,130.93 174.85,138.21 172.80,142.49 C170.75,146.77 170.14,147.91 168.38,152.53 C166.62,157.15 164.58,165.06 162.24,170.20 C159.91,175.35 156.76,180.59 154.39,183.41 C152.01,186.23 150.30,186.42 148.01,187.13 C145.71,187.84 144.24,188.96 140.64,187.69 C137.04,186.42 132.09,181.74 126.40,179.50 C120.71,177.27 111.51,174.79 106.52,174.30 C101.52,173.80 99.11,175.38 96.45,176.53 C93.79,177.68 91.54,180.40 90.56,181.18" stroke="#cf6f78"/>
<path d="M90.56,181.18 C90.80,180.31 91.46,178.02 92.03,175.97 C92.60,173.92 92.03,172.13 94.00,168.90 C95.96,165.68 100.58,159.97 103.82,156.63 C107.05,153.28 109.71,151.29 113.39,148.81 C117.07,146.33 121.16,144.54 125.91,141.75 C130.66,138.96 136.55,135.42 141.87,132.07 C147.19,128.73 153.12,124.88 157.83,121.66 C162.53,118.43 166.29,115.52 170.10,112.73 C173.91,109.94 177.38,106.69 180.66,104.92 C183.93,103.15 186.43,102.90 189.74,102.13 C193.05,101.35 195.63,100.73 200.54,100.27 C205.45,99.80 210.81,99.71 219.20,99.34 C227.59,98.97 241.95,98.41 250.87,98.04 C259.79,97.66 263.68,97.54 272.72,97.11 C281.76,96.67 295.96,95.96 305.12,95.43 C314.29,94.91 322.23,94.35 327.71,93.94 C333.19,93.54 332.70,93.63 338.02,93.01 C343.34,92.39 352.34,91.03 359.63,90.22 C366.91,89.42 375.67,88.61 381.72,88.18 C387.78,87.74 391.54,87.81 395.96,87.62 C400.38,87.43 405.04,87.25 408.24,87.06 C411.43,86.88 413.06,86.84 415.11,86.50 C417.15,86.16 418.79,85.57 420.51,85.02 C422.23,84.46 423.78,83.96 425.42,83.16 C427.06,82.35 428.69,81.27 430.33,80.18 C431.97,79.09 433.60,77.89 435.24,76.65 C436.88,75.41 438.51,74.04 440.15,72.74 C441.79,71.44 443.42,70.17 445.06,68.83 C446.70,67.50 448.33,66.11 449.97,64.74 C451.61,63.38 453.24,62.04 454.88,60.65 C456.52,59.26 458.15,57.83 459.79,56.37 C461.43,54.91 464.00,50.73 464.70,51.91 C465.40,53.09 464.58,59.97 463.96,63.44 C463.35,66.91 462.00,70.10 461.02,72.74 C460.04,75.38 459.34,76.83 458.07,79.25 C456.80,81.67 455.17,85.14 453.41,87.25 C451.65,89.36 449.72,90.63 447.51,91.90 C445.31,93.17 443.01,93.91 440.15,94.87 C437.29,95.83 433.69,96.67 430.33,97.66 C426.97,98.66 422.64,100.02 420.02,100.83 C417.40,101.63 416.99,101.72 414.62,102.50 C412.24,103.28 408.69,104.36 405.78,105.48 C402.87,106.59 400.09,107.83 397.19,109.20 C394.28,110.56 390.68,112.48 388.35,113.66 C386.02,114.84 384.87,115.58 383.19,116.26 C381.52,116.95 379.92,117.44 378.28,117.75 C376.65,118.06 375.13,118.22 373.37,118.12 C371.61,118.03 369.90,117.63 367.73,117.19 C365.56,116.76 363.23,116.14 360.36,115.52 C357.50,114.90 354.10,114.19 350.54,113.47 C346.98,112.76 342.81,111.77 339.00,111.24 C335.20,110.72 333.36,110.65 327.71,110.31 C322.06,109.97 314.21,109.44 305.12,109.20 C296.04,108.95 282.25,108.79 273.21,108.82 C264.17,108.86 259.63,109.10 250.87,109.38 C242.11,109.66 229.06,109.94 220.67,110.50 C212.29,111.06 205.86,111.46 200.54,112.73 C195.22,114.00 192.07,115.77 188.76,118.12 C185.44,120.48 183.32,122.80 180.66,126.87 C178.00,130.93 174.85,138.21 172.80,142.49 C170.75,146.77 170.14,147.91 168.38,152.53 C166.62,157.15 164.58,165.06 162.24,170.20 C159.91,175.35 156.76,180.59 154.39,183.41 C152.01,186.23 150.30,186.14 148.01,187.13 C145.71,188.12 144.24,190.23 140.64,189.36 C137.04,188.49 132.09,184.03 126.40,181.92 C120.71,179.81 111.51,177.21 106.52,176.71 C101.52,176.22 99.11,178.20 96.45,178.95 C93.79,179.69 91.54,180.81 90.56,181.18" stroke="#5f80c8"/>
<path d="M90.56,181.18 C90.80,180.31 91.46,178.02 92.03,175.97 C92.60,173.92 92.03,172.13 94.00,168.90 C95.96,165.68 100.58,159.97 103.82,156.63 C107.05,153.28 109.71,151.29 113.39,148.81 C117.07,146.33 121.16,144.54 125.91,141.75 C130.66,138.96 136.55,135.42 141.87,132.07 C147.19,128.73 153.12,124.88 157.83,121.66 C162.53,118.43 166.29,115.52 170.10,112.73 C173.91,109.94 177.38,106.69 180.66,104.92 C183.93,103.15 186.43,102.90 189.74,102.13 C193.05,101.35 195.63,100.73 200.54,100.27 C205.45,99.80 210.81,99.71 219.20,99.34 C227.59,98.97 241.95,98.41 250.87,98.04 C259.79,97.66 263.68,97.54 272.72,97.11 C281.76,96.67 295.96,95.96 305.12,95.43 C314.29,94.91 322.23,94.35 327.71,93.94 C333.19,93.54 332.70,93.63 338.02,93.01 C343.34,92.39 352.34,91.03 359.63,90.22 C366.91,89.42 375.67,88.61 381.72,88.18 C387.78,87.74 391.54,87.81 395.96,87.62 C400.38,87.43 405.04,87.25 408.24,87.06 C411.43,86.88 413.06,86.84 415.11,86.50 C417.15,86.16 418.79,85.54 420.51,85.02 C422.23,84.49 423.78,84.05 425.42,83.34 C427.06,82.63 428.69,81.67 430.33,80.74 C431.97,79.81 433.60,78.85 435.24,77.76 C436.88,76.68 438.51,75.47 440.15,74.23 C441.79,72.99 443.42,71.66 445.06,70.32 C446.70,68.99 448.33,67.59 449.97,66.23 C451.61,64.87 453.24,63.53 454.88,62.14 C456.52,60.74 458.15,59.32 459.79,57.86 C461.43,56.40 464.00,52.47 464.70,53.40 C465.40,54.33 464.58,60.22 463.96,63.44 C463.35,66.66 462.00,70.10 461.02,72.74 C460.04,75.38 459.34,76.83 458.07,79.25 C456.80,81.67 455.17,85.14 453.41,87.25 C451.65,89.36 449.72,90.63 447.51,91.90 C445.31,93.17 443.01,93.91 440.15,94.87 C437.29,95.83 433.69,96.67 430.33,97.66 C426.97,98.66 422.64,100.02 420.02,100.83 C417.40,101.63 416.99,101.72 414.62,102.50 C412.24,103.28 408.69,104.36 405.78,105.48 C402.87,106.59 400.09,107.83 397.19,109.20 C394.28,110.56 390.68,112.48 388.35,113.66 C386.02,114.84 384.87,115.58 383.19,116.26 C381.52,116.95 379.92,117.44 378.28,117.75 C376.65,118.06 375.13,118.22 373.37,118.12 C371.61,118.03 369.90,117.63 367.73,117.19 C365.56,116.76 363.23,116.14 360.36,115.52 C357.50,114.90 354.10,114.19 350.54,113.47 C346.98,112.76 342.81,111.77 339.00,111.24 C335.20,110.72 333.36,110.65 327.71,110.31 C322.06,109.97 314.21,109.44 305.12,109.20 C296.04,108.95 282.25,108.79 273.21,108.82 C264.17,108.86 259.63,109.10 250.87,109.38 C242.11,109.66 229.06,109.94 220.67,110.50 C212.29,111.06 205.86,111.46 200.54,112.73 C195.22,114.00 192.07,115.77 188.76,118.12 C185.44,120.48 183.32,122.80 180.66,126.87 C178.00,130.93 174.85,138.21 172.80,142.49 C170.75,146.77 170.14,147.91 168.38,152.53 C166.62,157.15 164.58,165.06 162.24,170.20 C159.91,175.35 156.76,180.59 154.39,183.41 C152.01,186.23 150.30,185.98 148.01,187.13 C145.71,188.28 144.24,190.94 140.64,190.29 C137.04,189.64 132.09,185.27 126.40,183.22 C120.71,181.18 111.51,178.51 106.52,178.02 C101.52,177.52 99.11,179.72 96.45,180.25 C93.79,180.77 91.54,181.02 90.56,181.18" stroke="#8f7fbf"/>
</g>
<path d="M338.00,19.60 V134.20 H481.70" fill="none" stroke="#555" stroke-width="0.90"/>
<line x1="336.00" y1="28.10" x2="338.00" y2="28.10" stroke="#555" stroke-width="0.90"/>
<text x="334.20" y="28.10" font-size="5.00" font-weight="bold" text-anchor="end" dominant-baseline="central" fill="#222">4</text>
<line x1="336.00" y1="65.30" x2="338.00" y2="65.30" stroke="#555" stroke-width="0.90"/>
<text x="334.20" y="65.30" font-size="5.00" font-weight="bold" text-anchor="end" dominant-baseline="central" fill="#222">2</text>
<line x1="336.00" y1="102.50" x2="338.00" y2="102.50" stroke="#555" stroke-width="0.90"/>
<text x="334.20" y="102.50" font-size="5.00" font-weight="bold" text-anchor="end" dominant-baseline="central" fill="#222">0</text>
<line x1="336.80" y1="46.70" x2="338.00" y2="46.70" stroke="#555" stroke-width="0.90"/>
<line x1="336.80" y1="83.90" x2="338.00" y2="83.90" stroke="#555" stroke-width="0.90"/>
<line x1="336.80" y1="121.10" x2="338.00" y2="121.10" stroke="#555" stroke-width="0.90"/>
<line x1="366.50" y1="134.20" x2="366.50" y2="136.20" stroke="#555" stroke-width="0.90"/>
<text x="366.50" y="141.20" font-size="5.00" font-weight="bold" text-anchor="middle" dominant-baseline="central" fill="#222">0.6</text>
<line x1="415.60" y1="134.20" x2="415.60" y2="136.20" stroke="#555" stroke-width="0.90"/>
<text x="415.60" y="141.20" font-size="5.00" font-weight="bold" text-anchor="middle" dominant-baseline="central" fill="#222">0.8</text>
<line x1="464.70" y1="134.20" x2="464.70" y2="136.20" stroke="#555" stroke-width="0.90"/>
<text x="464.70" y="141.20" font-size="5.00" font-weight="bold" text-anchor="middle" dominant-baseline="central" fill="#222">1.0</text>
<line x1="341.95" y1="134.20" x2="341.95" y2="135.40" stroke="#555" stroke-width="0.90"/>
<line x1="391.05" y1="134.20" x2="391.05" y2="135.40" stroke="#555" stroke-width="0.90"/>
<line x1="440.15" y1="134.20" x2="440.15" y2="135.40" stroke="#555" stroke-width="0.90"/>
<text font-size="6.3" font-weight="bold" transform="translate(322.8,72.6) rotate(-90)" text-anchor="middle" dominant-baseline="central" fill="#222" textLength="36.2" lengthAdjust="spacingAndGlyphs">Current (μA)</text>
<text x="376" y="152.2" font-size="6" font-weight="bold" fill="#222" textLength="68" lengthAdjust="spacingAndGlyphs">Potential (V vs Ag/AgCl)</text>
<g clip-path="url(#cBB)" fill="none" stroke-width="1.15" stroke-linejoin="round">
<path d="M353.71,291.26 C353.80,290.69 354.03,289.18 354.24,287.83 C354.45,286.48 354.24,285.29 354.96,283.17 C355.67,281.04 357.35,277.28 358.53,275.08 C359.70,272.87 360.67,271.56 362.01,269.93 C363.35,268.29 364.84,267.11 366.57,265.27 C368.29,263.43 370.44,261.10 372.37,258.89 C374.31,256.69 376.46,254.15 378.18,252.03 C379.89,249.90 381.26,247.98 382.64,246.14 C384.02,244.30 385.29,242.16 386.48,240.99 C387.67,239.83 388.58,239.67 389.78,239.15 C390.99,238.64 391.93,238.24 393.71,237.93 C395.50,237.62 397.45,237.56 400.50,237.32 C403.55,237.07 408.78,236.70 412.02,236.46 C415.26,236.21 416.68,236.13 419.97,235.84 C423.26,235.56 428.42,235.09 431.75,234.74 C435.09,234.39 437.98,234.03 439.97,233.76 C441.96,233.49 441.79,233.56 443.72,233.15 C445.66,232.74 448.93,231.84 451.58,231.31 C454.23,230.78 457.41,230.25 459.62,229.96 C461.82,229.67 463.19,229.71 464.80,229.59 C466.40,229.47 468.10,229.35 469.26,229.22 C470.42,229.10 471.02,229.10 471.76,228.86 C472.51,228.61 473.10,228.28 473.73,227.75 C474.35,227.22 474.92,226.55 475.51,225.67 C476.11,224.79 476.70,223.71 477.30,222.48 C477.89,221.26 478.49,219.78 479.08,218.31 C479.68,216.84 480.27,215.15 480.87,213.65 C481.47,212.16 482.06,210.75 482.66,209.36 C483.25,207.97 483.85,206.65 484.44,205.32 C485.04,203.99 485.63,202.76 486.23,201.39 C486.82,200.02 487.42,198.49 488.01,197.10 C488.61,195.71 489.58,191.69 489.80,193.06 C490.02,194.43 489.62,201.60 489.35,205.32 C489.09,209.04 488.68,212.45 488.19,215.37 C487.70,218.29 486.94,221.11 486.41,222.85 C485.87,224.59 485.53,224.73 484.98,225.79 C484.43,226.85 483.77,228.10 483.10,229.22 C482.43,230.35 481.94,231.43 480.96,232.53 C479.98,233.64 478.44,234.88 477.21,235.84 C475.97,236.80 474.49,237.70 473.55,238.30 C472.61,238.89 472.45,238.89 471.58,239.40 C470.72,239.91 469.42,240.63 468.37,241.36 C467.31,242.10 466.30,242.91 465.24,243.81 C464.19,244.71 462.88,245.98 462.03,246.76 C461.18,247.53 460.76,248.02 460.15,248.47 C459.54,248.92 458.96,249.25 458.37,249.45 C457.77,249.66 457.22,249.76 456.58,249.70 C455.94,249.64 455.32,249.37 454.53,249.09 C453.74,248.80 452.89,248.39 451.85,247.98 C450.81,247.57 449.57,247.10 448.28,246.63 C446.98,246.16 445.46,245.51 444.08,245.16 C442.69,244.81 442.02,244.77 439.97,244.55 C437.92,244.32 435.06,243.98 431.75,243.81 C428.45,243.65 423.44,243.55 420.15,243.57 C416.86,243.59 415.20,243.75 412.02,243.94 C408.83,244.12 404.09,244.30 401.04,244.67 C397.98,245.04 395.65,245.31 393.71,246.14 C391.78,246.98 390.63,248.15 389.43,249.70 C388.22,251.25 387.45,252.78 386.48,255.46 C385.51,258.14 384.37,262.94 383.62,265.76 C382.88,268.58 382.65,269.33 382.01,272.38 C381.37,275.42 380.63,280.63 379.78,284.03 C378.93,287.42 377.79,290.87 376.92,292.73 C376.06,294.59 375.44,294.82 374.60,295.18 C373.77,295.55 373.23,295.92 371.92,294.94 C370.61,293.96 368.81,290.81 366.74,289.30 C364.68,287.79 361.33,286.19 359.51,285.87 C357.70,285.54 356.82,286.44 355.85,287.34 C354.88,288.24 354.06,290.61 353.71,291.26" stroke="#7a7a7a"/>
<path d="M353.71,291.26 C353.80,290.69 354.03,289.18 354.24,287.83 C354.45,286.48 354.24,285.29 354.96,283.17 C355.67,281.04 357.35,277.28 358.53,275.08 C359.70,272.87 360.67,271.56 362.01,269.93 C363.35,268.29 364.84,267.11 366.57,265.27 C368.29,263.43 370.44,261.10 372.37,258.89 C374.31,256.69 376.46,254.15 378.18,252.03 C379.89,249.90 381.26,247.98 382.64,246.14 C384.02,244.30 385.29,242.16 386.48,240.99 C387.67,239.83 388.58,239.67 389.78,239.15 C390.99,238.64 391.93,238.24 393.71,237.93 C395.50,237.62 397.45,237.56 400.50,237.32 C403.55,237.07 408.78,236.70 412.02,236.46 C415.26,236.21 416.68,236.13 419.97,235.84 C423.26,235.56 428.42,235.09 431.75,234.74 C435.09,234.39 437.98,234.03 439.97,233.76 C441.96,233.49 441.79,233.56 443.72,233.15 C445.66,232.74 448.93,231.84 451.58,231.31 C454.23,230.78 457.41,230.25 459.62,229.96 C461.82,229.67 463.19,229.71 464.80,229.59 C466.40,229.47 468.10,229.35 469.26,229.22 C470.42,229.10 471.02,229.08 471.76,228.86 C472.51,228.63 473.10,228.23 473.73,227.88 C474.35,227.52 474.92,227.21 475.51,226.71 C476.11,226.21 476.70,225.54 477.30,224.87 C477.89,224.21 478.49,223.49 479.08,222.73 C479.68,221.96 480.27,221.11 480.87,220.27 C481.47,219.44 482.06,218.58 482.66,217.70 C483.25,216.82 483.85,215.90 484.44,215.00 C485.04,214.10 485.63,213.22 486.23,212.31 C486.82,211.39 487.42,210.45 488.01,209.49 C488.61,208.53 489.55,205.85 489.80,206.54 C490.05,207.24 489.76,211.45 489.53,213.65 C489.31,215.86 488.82,218.05 488.46,219.78 C488.10,221.52 487.85,222.48 487.39,224.08 C486.93,225.67 486.33,227.96 485.69,229.35 C485.05,230.74 484.35,231.57 483.55,232.41 C482.75,233.25 481.91,233.74 480.87,234.37 C479.83,235.01 478.52,235.56 477.30,236.21 C476.08,236.87 474.50,237.77 473.55,238.30 C472.59,238.83 472.45,238.89 471.58,239.40 C470.72,239.91 469.42,240.63 468.37,241.36 C467.31,242.10 466.30,242.91 465.24,243.81 C464.19,244.71 462.88,245.98 462.03,246.76 C461.18,247.53 460.76,248.02 460.15,248.47 C459.54,248.92 458.96,249.25 458.37,249.45 C457.77,249.66 457.22,249.76 456.58,249.70 C455.94,249.64 455.32,249.37 454.53,249.09 C453.74,248.80 452.89,248.39 451.85,247.98 C450.81,247.57 449.57,247.10 448.28,246.63 C446.98,246.16 445.46,245.51 444.08,245.16 C442.69,244.81 442.02,244.77 439.97,244.55 C437.92,244.32 435.06,243.98 431.75,243.81 C428.45,243.65 423.44,243.55 420.15,243.57 C416.86,243.59 415.20,243.75 412.02,243.94 C408.83,244.12 404.09,244.30 401.04,244.67 C397.98,245.04 395.65,245.31 393.71,246.14 C391.78,246.98 390.63,248.15 389.43,249.70 C388.22,251.25 387.45,252.78 386.48,255.46 C385.51,258.14 384.37,262.94 383.62,265.76 C382.88,268.58 382.65,269.33 382.01,272.38 C381.37,275.42 380.63,280.63 379.78,284.03 C378.93,287.42 377.79,290.87 376.92,292.73 C376.06,294.59 375.44,294.63 374.60,295.18 C373.77,295.73 373.23,296.74 371.92,296.04 C370.61,295.35 368.81,292.42 366.74,291.01 C364.68,289.60 361.33,287.91 359.51,287.58 C357.70,287.25 356.82,288.44 355.85,289.05 C354.88,289.67 354.06,290.89 353.71,291.26" stroke="#5aa898"/>
<path d="M353.71,291.26 C353.80,290.69 354.03,289.18 354.24,287.83 C354.45,286.48 354.24,285.29 354.96,283.17 C355.67,281.04 357.35,277.28 358.53,275.08 C359.70,272.87 360.67,271.56 362.01,269.93 C363.35,268.29 364.84,267.11 366.57,265.27 C368.29,263.43 370.44,261.10 372.37,258.89 C374.31,256.69 376.46,254.15 378.18,252.03 C379.89,249.90 381.26,247.98 382.64,246.14 C384.02,244.30 385.29,242.16 386.48,240.99 C387.67,239.83 388.58,239.67 389.78,239.15 C390.99,238.64 391.93,238.24 393.71,237.93 C395.50,237.62 397.45,237.56 400.50,237.32 C403.55,237.07 408.78,236.70 412.02,236.46 C415.26,236.21 416.68,236.13 419.97,235.84 C423.26,235.56 428.42,235.09 431.75,234.74 C435.09,234.39 437.98,234.03 439.97,233.76 C441.96,233.49 441.79,233.56 443.72,233.15 C445.66,232.74 448.93,231.84 451.58,231.31 C454.23,230.78 457.41,230.25 459.62,229.96 C461.82,229.67 463.19,229.71 464.80,229.59 C466.40,229.47 468.10,229.35 469.26,229.22 C470.42,229.10 471.02,229.10 471.76,228.86 C472.51,228.61 473.10,228.24 473.73,227.75 C474.35,227.26 474.92,226.69 475.51,225.91 C476.11,225.14 476.70,224.16 477.30,223.09 C477.89,222.03 478.49,220.81 479.08,219.54 C479.68,218.27 480.27,216.84 480.87,215.49 C481.47,214.14 482.06,212.78 482.66,211.45 C483.25,210.12 483.85,208.79 484.44,207.52 C485.04,206.26 485.63,205.01 486.23,203.85 C486.82,202.68 487.42,201.60 488.01,200.54 C488.61,199.47 489.58,196.67 489.80,197.47 C490.02,198.27 489.62,202.33 489.35,205.32 C489.09,208.30 488.68,212.45 488.19,215.37 C487.70,218.29 486.94,221.11 486.41,222.85 C485.87,224.59 485.53,224.73 484.98,225.79 C484.43,226.85 483.77,228.10 483.10,229.22 C482.43,230.35 481.94,231.43 480.96,232.53 C479.98,233.64 478.44,234.88 477.21,235.84 C475.97,236.80 474.49,237.70 473.55,238.30 C472.61,238.89 472.45,238.89 471.58,239.40 C470.72,239.91 469.42,240.63 468.37,241.36 C467.31,242.10 466.30,242.91 465.24,243.81 C464.19,244.71 462.88,245.98 462.03,246.76 C461.18,247.53 460.76,248.02 460.15,248.47 C459.54,248.92 458.96,249.25 458.37,249.45 C457.77,249.66 457.22,249.76 456.58,249.70 C455.94,249.64 455.32,249.37 454.53,249.09 C453.74,248.80 452.89,248.39 451.85,247.98 C450.81,247.57 449.57,247.10 448.28,246.63 C446.98,246.16 445.46,245.51 444.08,245.16 C442.69,244.81 442.02,244.77 439.97,244.55 C437.92,244.32 435.06,243.98 431.75,243.81 C428.45,243.65 423.44,243.55 420.15,243.57 C416.86,243.59 415.20,243.75 412.02,243.94 C408.83,244.12 404.09,244.30 401.04,244.67 C397.98,245.04 395.65,245.31 393.71,246.14 C391.78,246.98 390.63,248.15 389.43,249.70 C388.22,251.25 387.45,252.78 386.48,255.46 C385.51,258.14 384.37,262.94 383.62,265.76 C382.88,268.58 382.65,269.33 382.01,272.38 C381.37,275.42 380.63,280.63 379.78,284.03 C378.93,287.42 377.79,290.87 376.92,292.73 C376.06,294.59 375.44,294.71 374.60,295.18 C373.77,295.65 373.23,296.39 371.92,295.55 C370.61,294.71 368.81,291.63 366.74,290.16 C364.68,288.69 361.33,287.05 359.51,286.72 C357.70,286.40 356.82,287.44 355.85,288.19 C354.88,288.95 354.06,290.75 353.71,291.26" stroke="#cf6f78"/>
<path d="M353.71,291.26 C353.80,290.69 354.03,289.18 354.24,287.83 C354.45,286.48 354.24,285.29 354.96,283.17 C355.67,281.04 357.35,277.28 358.53,275.08 C359.70,272.87 360.67,271.56 362.01,269.93 C363.35,268.29 364.84,267.11 366.57,265.27 C368.29,263.43 370.44,261.10 372.37,258.89 C374.31,256.69 376.46,254.15 378.18,252.03 C379.89,249.90 381.26,247.98 382.64,246.14 C384.02,244.30 385.29,242.16 386.48,240.99 C387.67,239.83 388.58,239.67 389.78,239.15 C390.99,238.64 391.93,238.24 393.71,237.93 C395.50,237.62 397.45,237.56 400.50,237.32 C403.55,237.07 408.78,236.70 412.02,236.46 C415.26,236.21 416.68,236.13 419.97,235.84 C423.26,235.56 428.42,235.09 431.75,234.74 C435.09,234.39 437.98,234.03 439.97,233.76 C441.96,233.49 441.79,233.56 443.72,233.15 C445.66,232.74 448.93,231.84 451.58,231.31 C454.23,230.78 457.41,230.25 459.62,229.96 C461.82,229.67 463.19,229.71 464.80,229.59 C466.40,229.47 468.10,229.35 469.26,229.22 C470.42,229.10 471.02,229.08 471.76,228.86 C472.51,228.63 473.10,228.24 473.73,227.88 C474.35,227.51 474.92,227.18 475.51,226.65 C476.11,226.12 476.70,225.40 477.30,224.69 C477.89,223.97 478.49,223.18 479.08,222.36 C479.68,221.54 480.27,220.64 480.87,219.78 C481.47,218.93 482.06,218.09 482.66,217.21 C483.25,216.33 483.85,215.41 484.44,214.51 C485.04,213.61 485.63,212.73 486.23,211.81 C486.82,210.90 487.42,209.96 488.01,209.00 C488.61,208.03 489.55,205.28 489.80,206.05 C490.05,206.83 489.76,211.37 489.53,213.65 C489.31,215.94 488.82,218.05 488.46,219.78 C488.10,221.52 487.85,222.48 487.39,224.08 C486.93,225.67 486.33,227.96 485.69,229.35 C485.05,230.74 484.35,231.57 483.55,232.41 C482.75,233.25 481.91,233.74 480.87,234.37 C479.83,235.01 478.52,235.56 477.30,236.21 C476.08,236.87 474.50,237.77 473.55,238.30 C472.59,238.83 472.45,238.89 471.58,239.40 C470.72,239.91 469.42,240.63 468.37,241.36 C467.31,242.10 466.30,242.91 465.24,243.81 C464.19,244.71 462.88,245.98 462.03,246.76 C461.18,247.53 460.76,248.02 460.15,248.47 C459.54,248.92 458.96,249.25 458.37,249.45 C457.77,249.66 457.22,249.76 456.58,249.70 C455.94,249.64 455.32,249.37 454.53,249.09 C453.74,248.80 452.89,248.39 451.85,247.98 C450.81,247.57 449.57,247.10 448.28,246.63 C446.98,246.16 445.46,245.51 444.08,245.16 C442.69,244.81 442.02,244.77 439.97,244.55 C437.92,244.32 435.06,243.98 431.75,243.81 C428.45,243.65 423.44,243.55 420.15,243.57 C416.86,243.59 415.20,243.75 412.02,243.94 C408.83,244.12 404.09,244.30 401.04,244.67 C397.98,245.04 395.65,245.31 393.71,246.14 C391.78,246.98 390.63,248.15 389.43,249.70 C388.22,251.25 387.45,252.78 386.48,255.46 C385.51,258.14 384.37,262.94 383.62,265.76 C382.88,268.58 382.65,269.33 382.01,272.38 C381.37,275.42 380.63,280.63 379.78,284.03 C378.93,287.42 377.79,290.87 376.92,292.73 C376.06,294.59 375.44,294.53 374.60,295.18 C373.77,295.84 373.23,297.23 371.92,296.65 C370.61,296.08 368.81,293.14 366.74,291.75 C364.68,290.36 361.33,288.64 359.51,288.32 C357.70,287.99 356.82,289.30 355.85,289.79 C354.88,290.28 354.06,291.01 353.71,291.26" stroke="#5f80c8"/>
<path d="M353.71,291.26 C353.80,290.69 354.03,289.18 354.24,287.83 C354.45,286.48 354.24,285.29 354.96,283.17 C355.67,281.04 357.35,277.28 358.53,275.08 C359.70,272.87 360.67,271.56 362.01,269.93 C363.35,268.29 364.84,267.11 366.57,265.27 C368.29,263.43 370.44,261.10 372.37,258.89 C374.31,256.69 376.46,254.15 378.18,252.03 C379.89,249.90 381.26,247.98 382.64,246.14 C384.02,244.30 385.29,242.16 386.48,240.99 C387.67,239.83 388.58,239.67 389.78,239.15 C390.99,238.64 391.93,238.24 393.71,237.93 C395.50,237.62 397.45,237.56 400.50,237.32 C403.55,237.07 408.78,236.70 412.02,236.46 C415.26,236.21 416.68,236.13 419.97,235.84 C423.26,235.56 428.42,235.09 431.75,234.74 C435.09,234.39 437.98,234.03 439.97,233.76 C441.96,233.49 441.79,233.56 443.72,233.15 C445.66,232.74 448.93,231.84 451.58,231.31 C454.23,230.78 457.41,230.25 459.62,229.96 C461.82,229.67 463.19,229.71 464.80,229.59 C466.40,229.47 468.10,229.35 469.26,229.22 C470.42,229.10 471.02,229.08 471.76,228.86 C472.51,228.63 473.10,228.22 473.73,227.88 C474.35,227.53 474.92,227.24 475.51,226.77 C476.11,226.30 476.70,225.67 477.30,225.06 C477.89,224.44 478.49,223.81 479.08,223.09 C479.68,222.38 480.27,221.58 480.87,220.76 C481.47,219.95 482.06,219.07 482.66,218.19 C483.25,217.31 483.85,216.39 484.44,215.49 C485.04,214.59 485.63,213.72 486.23,212.80 C486.82,211.88 487.42,210.94 488.01,209.98 C488.61,209.02 489.55,206.42 489.80,207.03 C490.05,207.65 489.76,211.53 489.53,213.65 C489.31,215.78 488.82,218.05 488.46,219.78 C488.10,221.52 487.85,222.48 487.39,224.08 C486.93,225.67 486.33,227.96 485.69,229.35 C485.05,230.74 484.35,231.57 483.55,232.41 C482.75,233.25 481.91,233.74 480.87,234.37 C479.83,235.01 478.52,235.56 477.30,236.21 C476.08,236.87 474.50,237.77 473.55,238.30 C472.59,238.83 472.45,238.89 471.58,239.40 C470.72,239.91 469.42,240.63 468.37,241.36 C467.31,242.10 466.30,242.91 465.24,243.81 C464.19,244.71 462.88,245.98 462.03,246.76 C461.18,247.53 460.76,248.02 460.15,248.47 C459.54,248.92 458.96,249.25 458.37,249.45 C457.77,249.66 457.22,249.76 456.58,249.70 C455.94,249.64 455.32,249.37 454.53,249.09 C453.74,248.80 452.89,248.39 451.85,247.98 C450.81,247.57 449.57,247.10 448.28,246.63 C446.98,246.16 445.46,245.51 444.08,245.16 C442.69,244.81 442.02,244.77 439.97,244.55 C437.92,244.32 435.06,243.98 431.75,243.81 C428.45,243.65 423.44,243.55 420.15,243.57 C416.86,243.59 415.20,243.75 412.02,243.94 C408.83,244.12 404.09,244.30 401.04,244.67 C397.98,245.04 395.65,245.31 393.71,246.14 C391.78,246.98 390.63,248.15 389.43,249.70 C388.22,251.25 387.45,252.78 386.48,255.46 C385.51,258.14 384.37,262.94 383.62,265.76 C382.88,268.58 382.65,269.33 382.01,272.38 C381.37,275.42 380.63,280.63 379.78,284.03 C378.93,287.42 377.79,290.87 376.92,292.73 C376.06,294.59 375.44,294.43 374.60,295.18 C373.77,295.94 373.23,297.70 371.92,297.27 C370.61,296.84 368.81,293.96 366.74,292.61 C364.68,291.26 361.33,289.50 359.51,289.18 C357.70,288.85 356.82,290.30 355.85,290.65 C354.88,290.99 354.06,291.16 353.71,291.26" stroke="#8f7fbf"/>
</g>
<path d="M336.90,178.00 V313.10 H507.80" fill="none" stroke="#555" stroke-width="0.90"/>
<line x1="334.70" y1="190.36" x2="336.90" y2="190.36" stroke="#555" stroke-width="0.90"/>
<text x="332.90" y="190.36" font-size="5.50" font-weight="bold" text-anchor="end" dominant-baseline="central" fill="#222">4</text>
<line x1="334.70" y1="214.88" x2="336.90" y2="214.88" stroke="#555" stroke-width="0.90"/>
<text x="332.90" y="214.88" font-size="5.50" font-weight="bold" text-anchor="end" dominant-baseline="central" fill="#222">2</text>
<line x1="334.70" y1="239.40" x2="336.90" y2="239.40" stroke="#555" stroke-width="0.90"/>
<text x="332.90" y="239.40" font-size="5.50" font-weight="bold" text-anchor="end" dominant-baseline="central" fill="#222">0</text>
<line x1="334.70" y1="263.92" x2="336.90" y2="263.92" stroke="#555" stroke-width="0.90"/>
<text x="332.90" y="263.92" font-size="5.50" font-weight="bold" text-anchor="end" dominant-baseline="central" fill="#222">-2</text>
<line x1="334.70" y1="288.44" x2="336.90" y2="288.44" stroke="#555" stroke-width="0.90"/>
<text x="332.90" y="288.44" font-size="5.50" font-weight="bold" text-anchor="end" dominant-baseline="central" fill="#222">-4</text>
<line x1="334.70" y1="312.96" x2="336.90" y2="312.96" stroke="#555" stroke-width="0.90"/>
<text x="332.90" y="312.96" font-size="5.50" font-weight="bold" text-anchor="end" dominant-baseline="central" fill="#222">-6</text>
<line x1="335.58" y1="178.10" x2="336.90" y2="178.10" stroke="#555" stroke-width="0.90"/>
<line x1="335.58" y1="202.62" x2="336.90" y2="202.62" stroke="#555" stroke-width="0.90"/>
<line x1="335.58" y1="227.14" x2="336.90" y2="227.14" stroke="#555" stroke-width="0.90"/>
<line x1="335.58" y1="251.66" x2="336.90" y2="251.66" stroke="#555" stroke-width="0.90"/>
<line x1="335.58" y1="276.18" x2="336.90" y2="276.18" stroke="#555" stroke-width="0.90"/>
<line x1="335.58" y1="300.70" x2="336.90" y2="300.70" stroke="#555" stroke-width="0.90"/>
<line x1="346.92" y1="313.10" x2="346.92" y2="315.30" stroke="#555" stroke-width="0.90"/>
<text x="346.92" y="320.70" font-size="5.50" font-weight="bold" text-anchor="middle" dominant-baseline="central" fill="#222">-0.6</text>
<line x1="364.78" y1="313.10" x2="364.78" y2="315.30" stroke="#555" stroke-width="0.90"/>
<text x="364.78" y="320.70" font-size="5.50" font-weight="bold" text-anchor="middle" dominant-baseline="central" fill="#222">-0.4</text>
<line x1="382.64" y1="313.10" x2="382.64" y2="315.30" stroke="#555" stroke-width="0.90"/>
<text x="382.64" y="320.70" font-size="5.50" font-weight="bold" text-anchor="middle" dominant-baseline="central" fill="#222">-0.2</text>
<line x1="400.50" y1="313.10" x2="400.50" y2="315.30" stroke="#555" stroke-width="0.90"/>
<text x="400.50" y="320.70" font-size="5.50" font-weight="bold" text-anchor="middle" dominant-baseline="central" fill="#222">0.0</text>
<line x1="418.36" y1="313.10" x2="418.36" y2="315.30" stroke="#555" stroke-width="0.90"/>
<text x="418.36" y="320.70" font-size="5.50" font-weight="bold" text-anchor="middle" dominant-baseline="central" fill="#222">0.2</text>
<line x1="436.22" y1="313.10" x2="436.22" y2="315.30" stroke="#555" stroke-width="0.90"/>
<text x="436.22" y="320.70" font-size="5.50" font-weight="bold" text-anchor="middle" dominant-baseline="central" fill="#222">0.4</text>
<line x1="454.08" y1="313.10" x2="454.08" y2="315.30" stroke="#555" stroke-width="0.90"/>
<text x="454.08" y="320.70" font-size="5.50" font-weight="bold" text-anchor="middle" dominant-baseline="central" fill="#222">0.6</text>
<line x1="471.94" y1="313.10" x2="471.94" y2="315.30" stroke="#555" stroke-width="0.90"/>
<text x="471.94" y="320.70" font-size="5.50" font-weight="bold" text-anchor="middle" dominant-baseline="central" fill="#222">0.8</text>
<line x1="489.80" y1="313.10" x2="489.80" y2="315.30" stroke="#555" stroke-width="0.90"/>
<text x="489.80" y="320.70" font-size="5.50" font-weight="bold" text-anchor="middle" dominant-baseline="central" fill="#222">1.0</text>
<line x1="507.66" y1="313.10" x2="507.66" y2="315.30" stroke="#555" stroke-width="0.90"/>
<text x="507.66" y="320.70" font-size="5.50" font-weight="bold" text-anchor="middle" dominant-baseline="central" fill="#222">1.2</text>
<line x1="337.99" y1="313.10" x2="337.99" y2="314.42" stroke="#555" stroke-width="0.90"/>
<line x1="355.85" y1="313.10" x2="355.85" y2="314.42" stroke="#555" stroke-width="0.90"/>
<line x1="373.71" y1="313.10" x2="373.71" y2="314.42" stroke="#555" stroke-width="0.90"/>
<line x1="391.57" y1="313.10" x2="391.57" y2="314.42" stroke="#555" stroke-width="0.90"/>
<line x1="409.43" y1="313.10" x2="409.43" y2="314.42" stroke="#555" stroke-width="0.90"/>
<line x1="427.29" y1="313.10" x2="427.29" y2="314.42" stroke="#555" stroke-width="0.90"/>
<line x1="445.15" y1="313.10" x2="445.15" y2="314.42" stroke="#555" stroke-width="0.90"/>
<line x1="463.01" y1="313.10" x2="463.01" y2="314.42" stroke="#555" stroke-width="0.90"/>
<line x1="480.87" y1="313.10" x2="480.87" y2="314.42" stroke="#555" stroke-width="0.90"/>
<line x1="498.73" y1="313.10" x2="498.73" y2="314.42" stroke="#555" stroke-width="0.90"/>
<text font-size="7.1" font-weight="bold" transform="translate(317,241.4) rotate(-90)" text-anchor="middle" dominant-baseline="central" fill="#222" textLength="42" lengthAdjust="spacingAndGlyphs">Current (μA)</text>
<text x="381.7" y="333.5" font-size="7.1" font-weight="bold" fill="#222" textLength="81.3" lengthAdjust="spacingAndGlyphs">Potential (V vs Ag/AgCl)</text>
<rect x="495.2" y="161.4" width="46.3" height="46.6" fill="#fff" stroke="#999" stroke-width="0.8"/>
<line x1="496" y1="166.10" x2="512.5" y2="166.10" stroke="#9a9a9a" stroke-width="1.6"/>
<text x="513.5" y="166.10" font-size="7.2" dominant-baseline="central" fill="#222">Blank</text>
<line x1="496" y1="175.45" x2="512.5" y2="175.45" stroke="#e08c90" stroke-width="1.6"/>
<text x="513.5" y="175.45" font-size="7.2" dominant-baseline="central" fill="#222">1 μM</text>
<line x1="496" y1="184.80" x2="512.5" y2="184.80" stroke="#86a2cc" stroke-width="1.6"/>
<text x="513.5" y="184.80" font-size="7.2" dominant-baseline="central" fill="#222">2 μM</text>
<line x1="496" y1="194.15" x2="512.5" y2="194.15" stroke="#6fb8a8" stroke-width="1.6"/>
<text x="513.5" y="194.15" font-size="7.2" dominant-baseline="central" fill="#222">5.5 μM</text>
<line x1="496" y1="203.50" x2="512.5" y2="203.50" stroke="#b4a6c8" stroke-width="1.6"/>
<text x="513.5" y="203.50" font-size="7.2" dominant-baseline="central" fill="#222">16.6 μM</text>
<text x="8" y="22" font-size="14" fill="#111">A</text>
<text x="307.5" y="20" font-size="14" fill="#111">B</text>
</svg>
</body></html>
